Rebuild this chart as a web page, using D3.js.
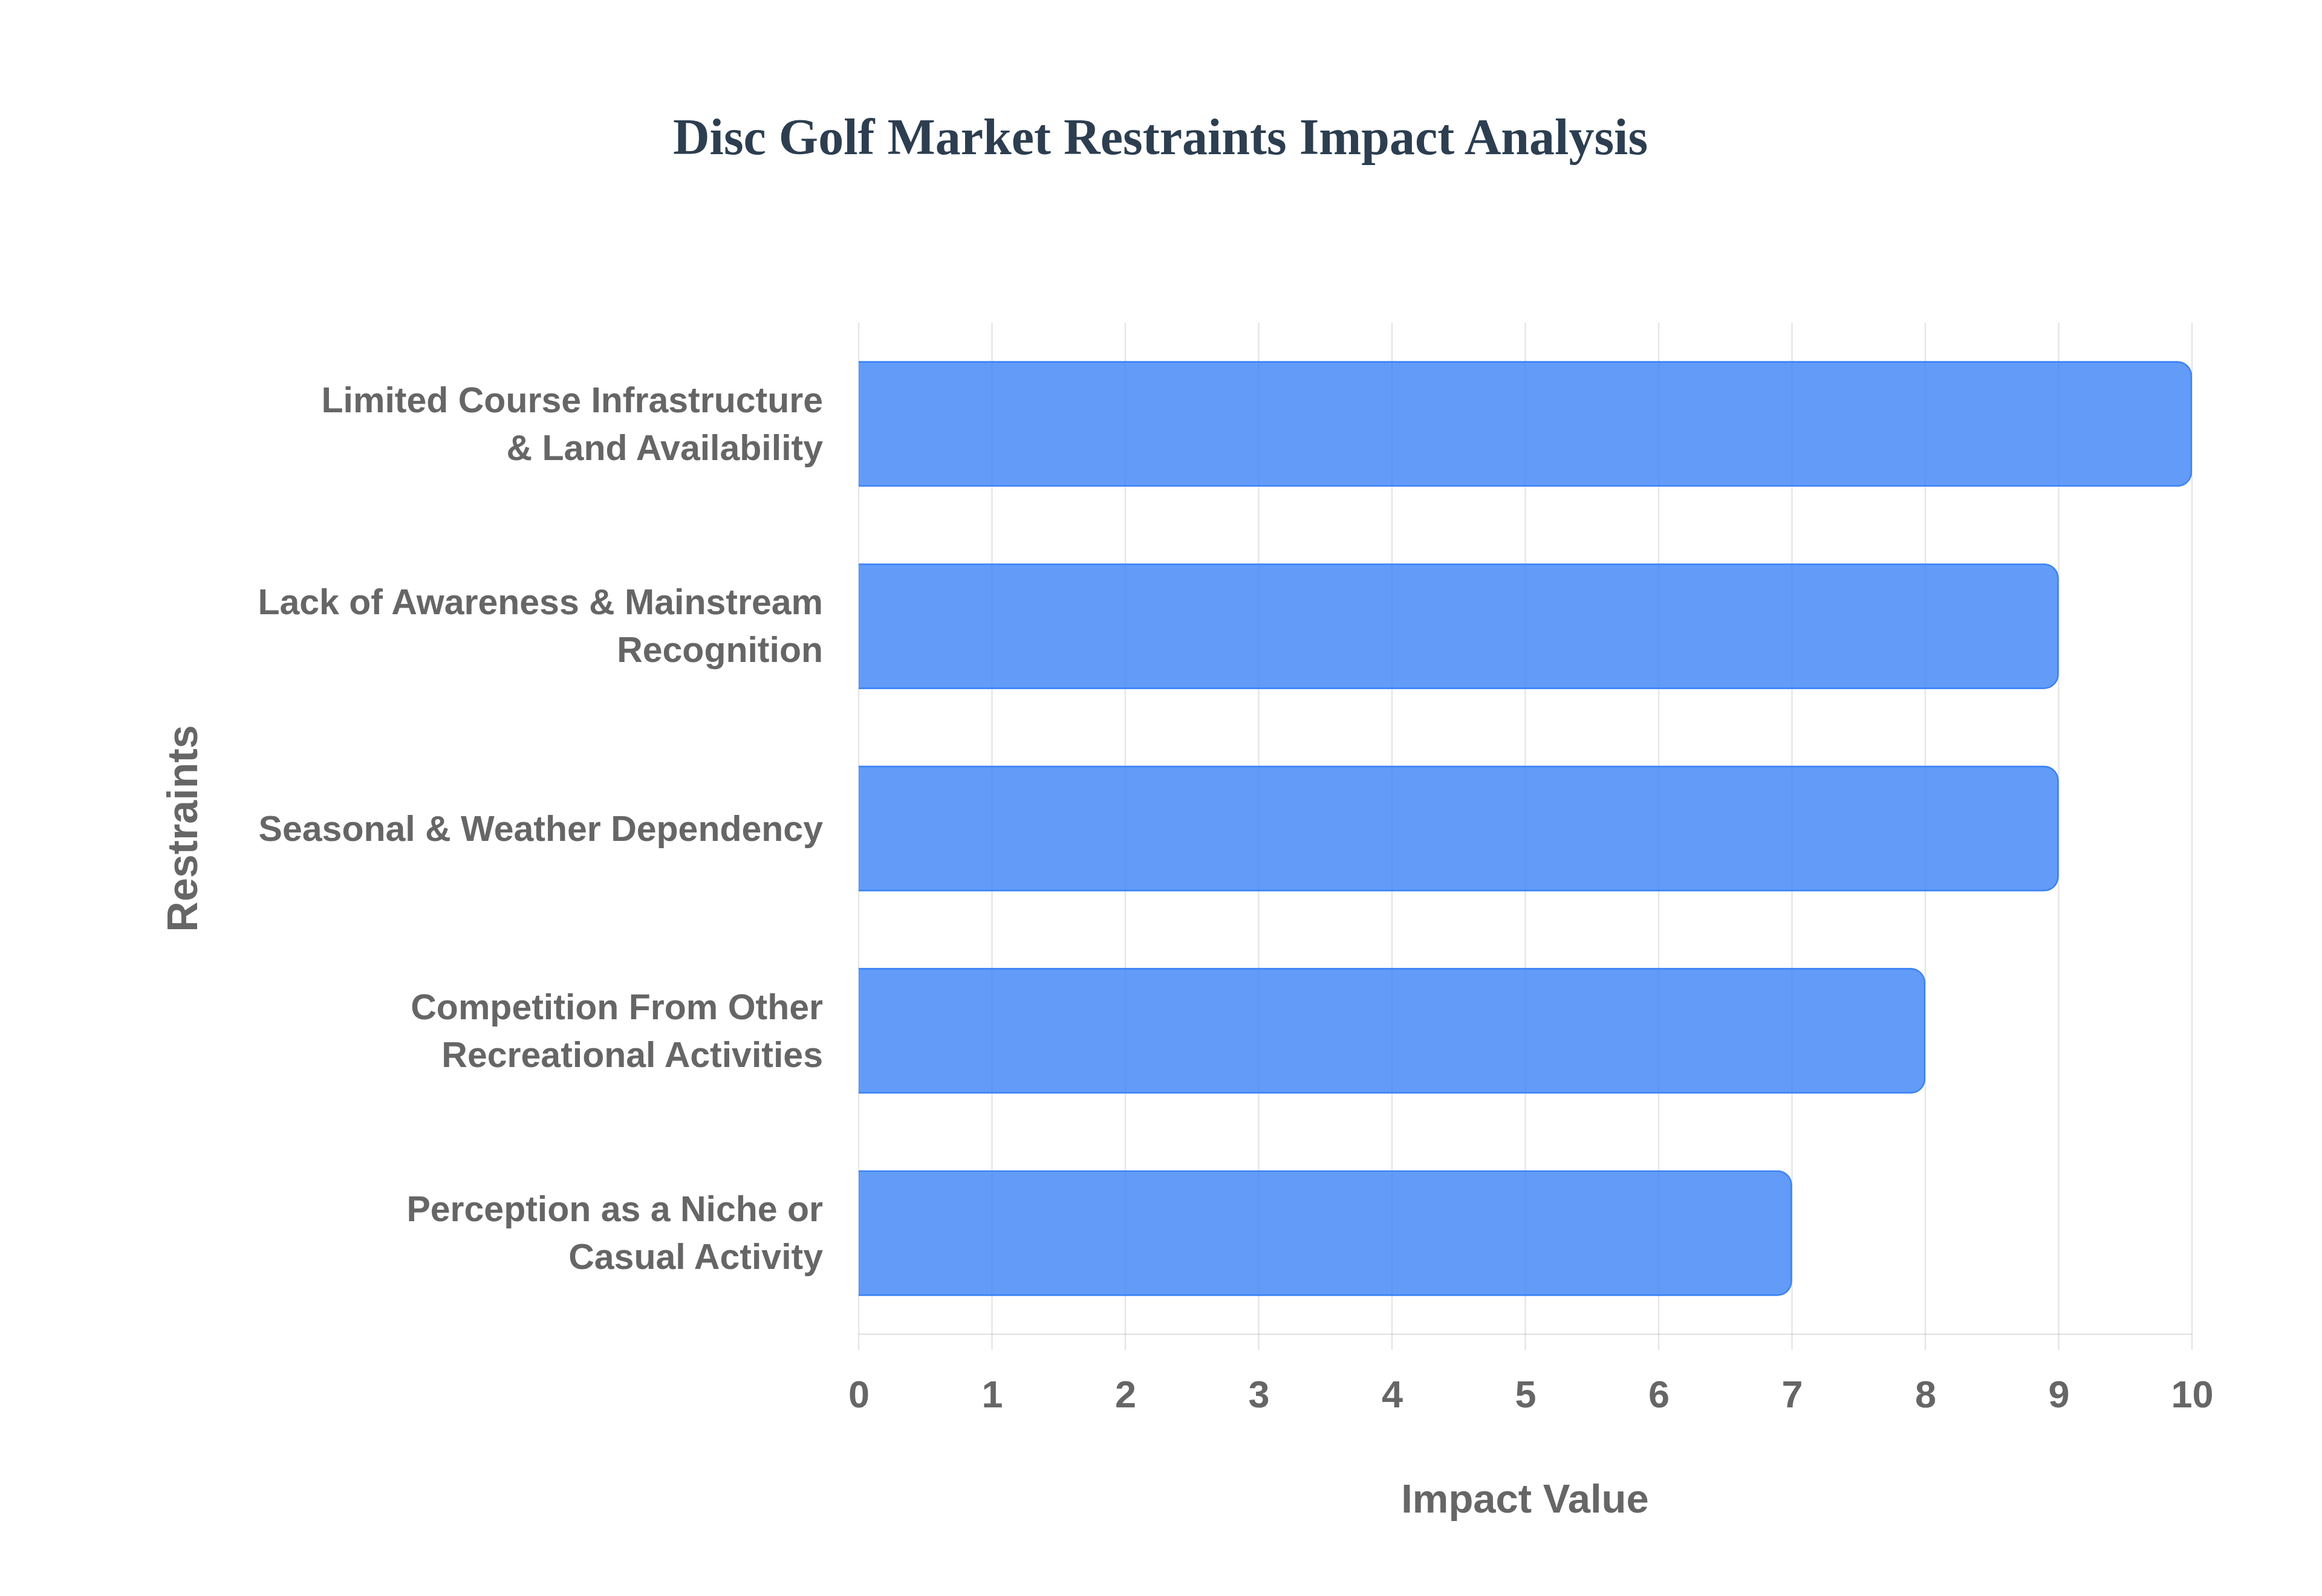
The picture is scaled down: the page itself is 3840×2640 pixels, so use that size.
<!DOCTYPE html>
<html lang="en">
  <head>
    <meta charset="utf-8" />
    <title>Disc Golf Market Restraints Impact Analysis</title>
    <style>
      html,
      body {
        margin: 0;
        padding: 0;
        background: #ffffff;
      }
      svg {
        display: block;
      }
      .tick text,
      .cat-label,
      .axis-title {
        font-family: 'Liberation Sans', Arial, sans-serif;
        font-weight: bold;
        fill: #666666;
      }
    </style>
  </head>
  <body>
    <svg></svg>

    <script src="https://d3js.org/d3.v7.min.js"></script>
    <script type="text/javascript">
      // Chart data
      const restraints = [
        ['Limited Course Infrastructure', '& Land Availability'],
        ['Lack of Awareness & Mainstream', 'Recognition'],
        ['Seasonal & Weather Dependency'],
        ['Competition From Other', 'Recreational Activities'],
        ['Perception as a Niche or', 'Casual Activity'],
      ]
      const impactValues = [10, 9, 9, 8, 7]
      const xTicks = [0, 1, 2, 3, 4, 5, 6, 7, 8, 9, 10]

      const chartTitle = 'Disc Golf Market Restraints Impact Analysis'
      const xTitle = 'Impact Value'
      const yTitle = 'Restraints'

      let width = 3840,
        height = 2640

      let margin = { top: 534, right: 215, bottom: 433, left: 1420 }

      let svg = d3.select('svg').attr('width', width).attr('height', height).attr('viewBox', [0, 0, width, height])

      const keys = restraints.map((d) => d.join(' '))

      let x = d3
        .scaleLinear()
        .domain([0, 10])
        .range([margin.left, width - margin.right])

      let y = d3
        .scaleBand()
        .domain(keys)
        .range([margin.top, height - margin.bottom])
        .paddingInner(0.38)
        .paddingOuter(0.19)

      const gridColor = 'rgba(0,0,0,0.1)'
      const plotBottom = height - margin.bottom

      // Title
      svg
        .append('text')
        .attr('x', 1919)
        .attr('y', 255)
        .attr('text-anchor', 'middle')
        .attr('font-family', "'Liberation Serif', 'Times New Roman', serif")
        .attr('font-weight', 'bold')
        .attr('font-size', 84)
        .attr('fill', '#2c3e50')
        .text(chartTitle)

      // Vertical grid lines (plus tick marks below axis)
      svg
        .append('g')
        .attr('class', 'grid')
        .selectAll('line')
        .data(xTicks)
        .join('line')
        .attr('x1', (d) => x(d))
        .attr('x2', (d) => x(d))
        .attr('y1', margin.top)
        .attr('y2', plotBottom + 26)
        .attr('stroke', gridColor)
        .attr('stroke-width', 2.4)

      // bottom border line
      svg
        .append('line')
        .attr('x1', x(0))
        .attr('x2', x(10))
        .attr('y1', plotBottom)
        .attr('y2', plotBottom)
        .attr('stroke', gridColor)
        .attr('stroke-width', 2.4)

      // Bars, rounded on the right end only
      const r = 24
      function barPath(x0, x1, y0, h) {
        const rr = Math.min(r, (x1 - x0) / 2, h / 2)
        return (
          `M${x0},${y0}H${x1 - rr}` +
          `A${rr},${rr} 0 0 1 ${x1},${y0 + rr}` +
          `V${y0 + h - rr}` +
          `A${rr},${rr} 0 0 1 ${x1 - rr},${y0 + h}` +
          `H${x0}Z`
        )
      }
      function borderPath(x0, x1, y0, h) {
        const rr = Math.min(r, (x1 - x0) / 2, h / 2)
        const o = 1.2
        return (
          `M${x0},${y0 + o}H${x1 - rr}` +
          `A${rr - o},${rr - o} 0 0 1 ${x1 - o},${y0 + rr}` +
          `V${y0 + h - rr}` +
          `A${rr - o},${rr - o} 0 0 1 ${x1 - rr},${y0 + h - o}` +
          `H${x0}`
        )
      }

      const bars = svg
        .append('g')
        .attr('class', 'bars')
        .selectAll('g')
        .data(impactValues)
        .join('g')

      bars
        .append('path')
        .attr('d', (d, i) => barPath(x(0), x(d), y(keys[i]), y.bandwidth()))
        .attr('fill', 'rgba(59,130,246,0.8)')

      bars
        .append('path')
        .attr('d', (d, i) => borderPath(x(0), x(d), y(keys[i]), y.bandwidth()))
        .attr('fill', 'none')
        .attr('stroke', 'rgb(59,130,246)')
        .attr('stroke-width', 2.4)

      // X axis tick labels
      const xAxis = svg
        .append('g')
        .attr('transform', `translate(0,${plotBottom})`)
        .call(d3.axisBottom(x).tickValues(xTicks).tickSize(0).tickPadding(121))
      xAxis.select('.domain').remove()
      xAxis.selectAll('.tick text').attr('font-size', 63).attr('dy', 0)

      // Y category labels (multi-line, right aligned)
      const lineH = 79
      const labels = svg
        .append('g')
        .selectAll('text')
        .data(restraints)
        .join('text')
        .attr('class', 'cat-label')
        .attr('text-anchor', 'end')
        .attr('font-size', 59)

      labels.each(function (lines, i) {
        const cy = y(keys[i]) + y.bandwidth() / 2
        d3.select(this)
          .selectAll('tspan')
          .data(lines)
          .join('tspan')
          .attr('x', 1361)
          .attr('y', (l, j) => cy + (j - (lines.length - 1) / 2) * lineH + 20)
          .text((l) => l)
      })

      // Axis titles
      svg
        .append('text')
        .attr('class', 'axis-title')
        .attr('x', 2522)
        .attr('y', 2502)
        .attr('text-anchor', 'middle')
        .attr('font-size', 67)
        .text(xTitle)

      svg
        .append('text')
        .attr('class', 'axis-title')
        .attr('transform', `translate(326,${(margin.top + plotBottom) / 2}) rotate(-90)`)
        .attr('text-anchor', 'middle')
        .attr('font-size', 70)
        .text(yTitle)
    </script>
  </body>
</html>
